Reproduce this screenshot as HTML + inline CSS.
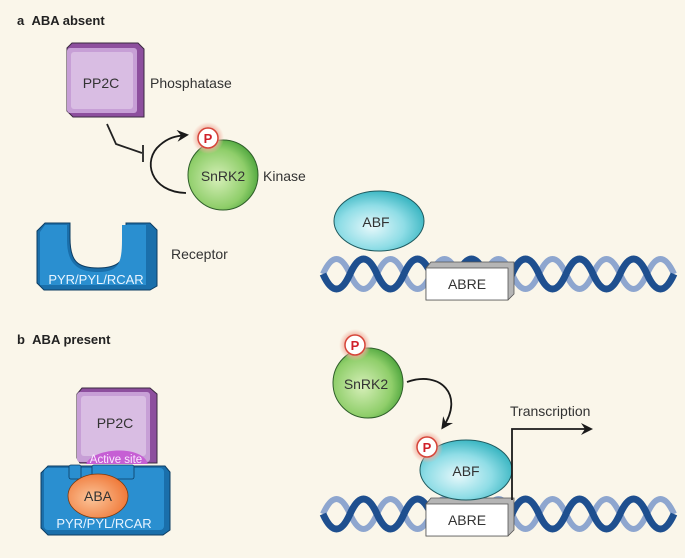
<!DOCTYPE html>
<html><head><meta charset="utf-8"><style>
html,body{margin:0;padding:0;background:#faf6ea;}
svg{display:block;font-family:"Liberation Sans",sans-serif;}
</style></head><body>
<svg width="685" height="558" viewBox="0 0 685 558" xmlns="http://www.w3.org/2000/svg">
<defs>
<radialGradient id="gg" cx="0.42" cy="0.55" r="0.6"><stop offset="0" stop-color="#d6efb8"/><stop offset="0.7" stop-color="#8fce6a"/><stop offset="1" stop-color="#4fa63e"/></radialGradient>
<radialGradient id="bg" cx="0.42" cy="0.6" r="0.6"><stop offset="0" stop-color="#e6f8fb"/><stop offset="0.6" stop-color="#8fdde6"/><stop offset="1" stop-color="#3fb8c4"/></radialGradient>
<radialGradient id="og" cx="0.4" cy="0.55" r="0.6"><stop offset="0" stop-color="#fbc59a"/><stop offset="1" stop-color="#f07a3a"/></radialGradient>
<radialGradient id="ph" cx="0.5" cy="0.5" r="0.5"><stop offset="0.55" stop-color="#f0a898"/><stop offset="1" stop-color="#f3b7a8" stop-opacity="0"/></radialGradient>
<marker id="ah" markerWidth="14" markerHeight="14" refX="9" refY="6" orient="auto" markerUnits="userSpaceOnUse"><path d="M0,0 L12,6 L0,12 L4,6 Z" fill="#1a1a1a"/></marker>
<g id="dna">
<path d="M323,0 q13.5,-30 27,0 t27,0 t27,0 t27,0 t27,0 t27,0 t27,0 t27,0 t27,0 t27,0 t27,0 t27,0 t27,0" fill="none" stroke="#8ea6cf" stroke-width="6"/>
<path d="M323,0 q13.5,30 27,0 t27,0 t27,0 t27,0 t27,0 t27,0 t27,0 t27,0 t27,0 t27,0 t27,0 t27,0 t27,0" fill="none" stroke="#1e4f8f" stroke-width="7"/>
</g>
<g id="pc"><circle r="16" fill="url(#ph)"/><circle r="10" fill="#fff" stroke="#d6453a" stroke-width="1.5"/><text y="5" text-anchor="middle" font-size="13" font-weight="bold" fill="#d0202a">P</text></g>
</defs>

<text x="17" y="25" font-size="13" font-weight="bold" fill="#222">a&#160;&#160;ABA absent</text>
<path d="M72,43 L138,43 L144,49 L144,117 L73,117 L67,111 L67,48 Z" fill="#8d4f9e" stroke="#3a2a40" stroke-width="1"/>
<rect x="67" y="48" width="70" height="65" rx="3" fill="#c79fd6"/>
<rect x="71" y="52" width="62" height="57" rx="3" fill="#d9bde3"/>
<text x="101" y="88" text-anchor="middle" font-size="14" fill="#333">PP2C</text>
<text x="150" y="88" font-size="14" fill="#333">Phosphatase</text>
<path d="M107,124 L116,144 L142,153" fill="none" stroke="#222" stroke-width="1.8"/>
<line x1="143" y1="145" x2="143" y2="162" stroke="#222" stroke-width="1.8"/>
<path d="M186,193 C150,192 142,160 160,145 C168,138 175,136 186,135" fill="none" stroke="#1a1a1a" stroke-width="1.8" marker-end="url(#ah)"/>
<circle cx="223" cy="175" r="35" fill="url(#gg)" stroke="#2f5f2a" stroke-width="1"/>
<text x="223" y="181" text-anchor="middle" font-size="14" fill="#333">SnRK2</text>
<text x="263" y="181" font-size="14" fill="#333">Kinase</text>
<use href="#pc" x="208" y="138"/>
<path d="M45,223 L70,223 L70,238 C70,262 78,268 98,268 C118,268 126,262 126,238 L126,223 L150,223 L157,230 L157,286 L150,290 L44,290 L37,283 L37,231 Z" fill="#1a6fab" stroke="#0d3d63" stroke-width="1"/>
<path d="M45,225 L67,225 L67,240 C67,264 78,272 98,272 C118,272 122,264 122,240 L122,225 L146,225 L146,285 L40,285 L40,232 Z" fill="#2a8fd0"/>
<text x="96" y="284" text-anchor="middle" font-size="13" fill="#e8f4ff">PYR/PYL/RCAR</text>
<text x="171" y="259" font-size="14" fill="#333">Receptor</text>
<ellipse cx="379" cy="221" rx="45" ry="30" fill="url(#bg)" stroke="#1f5a5f" stroke-width="1"/>
<text x="376" y="227" text-anchor="middle" font-size="14" fill="#333">ABF</text>
<use href="#dna" y="274"/>
<path d="M426,268 L431,262 L514,262 L514,294 L508,300 L426,300 Z" fill="#b5b5b5" stroke="#555" stroke-width="0.8"/>
<rect x="426" y="268" width="82" height="32" fill="#fff" stroke="#555" stroke-width="0.8"/>
<text x="467" y="289" text-anchor="middle" font-size="14" fill="#333">ABRE</text>

<text x="17" y="344" font-size="13" font-weight="bold" fill="#222">b&#160;&#160;ABA present</text>
<path d="M82,388 L150,388 L157,394 L157,463 L80,463 L77,458 L77,394 Z" fill="#8d4f9e" stroke="#3a2a40" stroke-width="1"/>
<rect x="77" y="392" width="73" height="70" rx="3" fill="#c79fd6"/>
<rect x="81" y="396" width="65" height="60" rx="3" fill="#d9bde3"/>
<path d="M86,464 C92,448 142,444 148,464 Z" fill="#c65fd4"/>
<text x="115" y="428" text-anchor="middle" font-size="14" fill="#333">PP2C</text>
<text x="116" y="463" text-anchor="middle" font-size="11.5" fill="#fbe8ff">Active site</text>
<path d="M48,466 L165,466 L170,472 L170,530 L163,535 L48,535 L41,528 L41,473 Z" fill="#1a6fab" stroke="#0d3d63" stroke-width="1"/>
<rect x="44" y="468" width="120" height="62" rx="4" fill="#2a8fd0"/>
<rect x="69" y="465" width="12" height="14" rx="2" fill="#2a8fd0" stroke="#0d3d63" stroke-width="0.8"/>
<rect x="92" y="465" width="42" height="14" rx="2" fill="#2a8fd0" stroke="#0d3d63" stroke-width="0.8"/>
<ellipse cx="98" cy="496" rx="30" ry="22" fill="url(#og)" stroke="#7a3a10" stroke-width="0.8"/>
<text x="98" y="501" text-anchor="middle" font-size="14" fill="#333">ABA</text>
<text x="104" y="528" text-anchor="middle" font-size="13" fill="#e8f4ff">PYR/PYL/RCAR</text>
<circle cx="368" cy="383" r="35" fill="url(#gg)" stroke="#2f5f2a" stroke-width="1"/>
<text x="366" y="389" text-anchor="middle" font-size="14" fill="#333">SnRK2</text>
<use href="#pc" x="355" y="345"/>
<path d="M407,382 C440,370 465,395 443,427" fill="none" stroke="#1a1a1a" stroke-width="1.8" marker-end="url(#ah)"/>
<use href="#dna" y="514"/>
<path d="M426,504 L431,498 L514,498 L514,530 L508,536 L426,536 Z" fill="#b5b5b5" stroke="#555" stroke-width="0.8"/>
<rect x="426" y="504" width="82" height="32" fill="#fff" stroke="#555" stroke-width="0.8"/>
<text x="467" y="525" text-anchor="middle" font-size="14" fill="#333">ABRE</text>
<ellipse cx="466" cy="470" rx="46" ry="30" fill="url(#bg)" stroke="#1f5a5f" stroke-width="1"/>
<text x="466" y="476" text-anchor="middle" font-size="14" fill="#333">ABF</text>
<use href="#pc" x="427" y="447"/>
<path d="M512,500 L512,429 L590,429" fill="none" stroke="#1a1a1a" stroke-width="1.8" marker-end="url(#ah)"/>
<text x="510" y="416" font-size="14" fill="#333">Transcription</text>
</svg>
</body></html>
